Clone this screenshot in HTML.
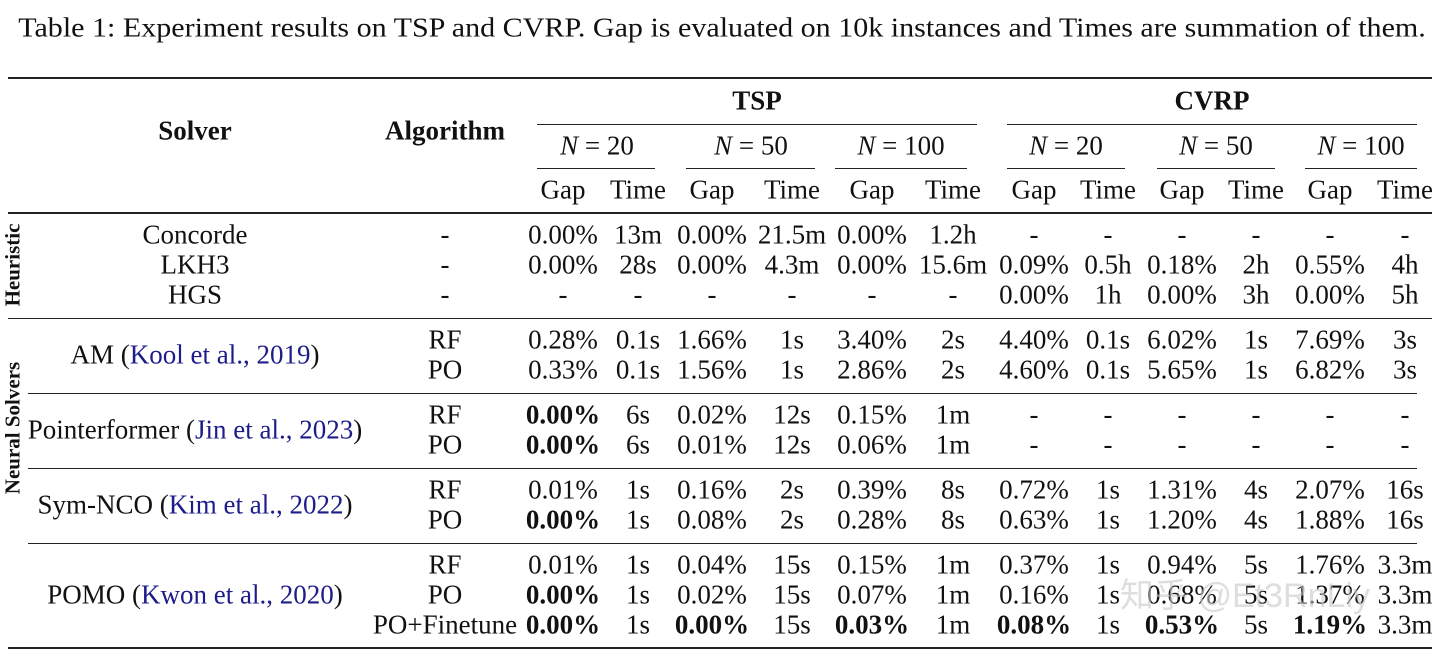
<!DOCTYPE html>
<html><head><meta charset="utf-8"><style>
body{margin:0;width:1440px;height:653px;background:#fff;position:relative;overflow:hidden;font-family:"Liberation Serif",serif;font-size:27px;color:#111}
.c{position:absolute;transform:translate(-50%,-50%);white-space:nowrap;line-height:1}
.l{position:absolute;background:#222}
b{font-weight:bold}
.n{color:#1c1c8a}
.v{position:absolute;transform:translate(-50%,-50%) rotate(-90deg);white-space:nowrap;font-weight:bold;font-size:21px;line-height:1}
i{font-style:italic}
</style></head><body>
<div class="c" style="left:722px;top:28px;transform:translate(-50%,-50%) scaleX(1.113)">Table 1: Experiment results on TSP and CVRP. Gap is evaluated on 10k instances and Times are summation of them.</div>
<div class="l" style="left:8px;top:77px;width:1424px;height:2px"></div>
<div class="l" style="left:537px;top:124px;width:440px;height:1px"></div>
<div class="l" style="left:1007px;top:124px;width:410px;height:1px"></div>
<div class="l" style="left:537px;top:168px;width:118px;height:1px"></div>
<div class="l" style="left:686px;top:168px;width:129px;height:1px"></div>
<div class="l" style="left:835px;top:168px;width:132px;height:1px"></div>
<div class="l" style="left:1007px;top:168px;width:118px;height:1px"></div>
<div class="l" style="left:1157px;top:168px;width:118px;height:1px"></div>
<div class="l" style="left:1305px;top:168px;width:112px;height:1px"></div>
<div class="l" style="left:8px;top:212px;width:1424px;height:2px"></div>
<div class="l" style="left:8px;top:318px;width:1424px;height:1px"></div>
<div class="l" style="left:28px;top:393px;width:1389px;height:1px"></div>
<div class="l" style="left:28px;top:468px;width:1389px;height:1px"></div>
<div class="l" style="left:28px;top:543px;width:1389px;height:1px"></div>
<div class="l" style="left:8px;top:647px;width:1424px;height:2px"></div>

<div class="c" style="left:195px;top:131px"><b>Solver</b></div>
<div class="c" style="left:445px;top:131px"><b>Algorithm</b></div>
<div class="c" style="left:757px;top:101px"><b>TSP</b></div>
<div class="c" style="left:1212px;top:101px"><b>CVRP</b></div>
<div class="c" style="left:597px;top:146px"><i>N</i> = 20</div>
<div class="c" style="left:751px;top:146px"><i>N</i> = 50</div>
<div class="c" style="left:901px;top:146px"><i>N</i> = 100</div>
<div class="c" style="left:1066px;top:146px"><i>N</i> = 20</div>
<div class="c" style="left:1216px;top:146px"><i>N</i> = 50</div>
<div class="c" style="left:1361px;top:146px"><i>N</i> = 100</div>
<div class="c" style="left:563px;top:190px">Gap</div><div class="c" style="left:638px;top:190px">Time</div>
<div class="c" style="left:712px;top:190px">Gap</div><div class="c" style="left:792px;top:190px">Time</div>
<div class="c" style="left:872px;top:190px">Gap</div><div class="c" style="left:953px;top:190px">Time</div>
<div class="c" style="left:1034px;top:190px">Gap</div><div class="c" style="left:1108px;top:190px">Time</div>
<div class="c" style="left:1182px;top:190px">Gap</div><div class="c" style="left:1256px;top:190px">Time</div>
<div class="c" style="left:1330px;top:190px">Gap</div><div class="c" style="left:1405px;top:190px">Time</div>

<div class="v" style="left:13px;top:265px">Heuristic</div>
<div class="v" style="left:13px;top:428px">Neural Solvers</div>

<div class="c" style="left:195px;top:235px">Concorde</div>
<div class="c" style="left:195px;top:265px">LKH3</div>
<div class="c" style="left:195px;top:295px">HGS</div>
<div class="c" style="left:195px;top:355px">AM (<span class="n">Kool et al., 2019</span>)</div>
<div class="c" style="left:195px;top:430px">Pointerformer (<span class="n">Jin et al., 2023</span>)</div>
<div class="c" style="left:195px;top:505px">Sym-NCO (<span class="n">Kim et al., 2022</span>)</div>
<div class="c" style="left:195px;top:595px">POMO (<span class="n">Kwon et al., 2020</span>)</div>

<div class="c" style="left:445px;top:235px">-</div>
<div class="c" style="left:445px;top:265px">-</div>
<div class="c" style="left:445px;top:295px">-</div>
<div class="c" style="left:445px;top:340px">RF</div><div class="c" style="left:445px;top:370px">PO</div>
<div class="c" style="left:445px;top:415px">RF</div><div class="c" style="left:445px;top:445px">PO</div>
<div class="c" style="left:445px;top:490px">RF</div><div class="c" style="left:445px;top:520px">PO</div>
<div class="c" style="left:445px;top:565px">RF</div><div class="c" style="left:445px;top:595px">PO</div>
<div class="c" style="left:445px;top:625px">PO+Finetune</div>

<div style="position:absolute;left:0;top:0">
<div class="c" style="left:563px;top:235px">0.00%</div><div class="c" style="left:638px;top:235px">13m</div><div class="c" style="left:712px;top:235px">0.00%</div><div class="c" style="left:792px;top:235px">21.5m</div><div class="c" style="left:872px;top:235px">0.00%</div><div class="c" style="left:953px;top:235px">1.2h</div><div class="c" style="left:1034px;top:235px">-</div><div class="c" style="left:1108px;top:235px">-</div><div class="c" style="left:1182px;top:235px">-</div><div class="c" style="left:1256px;top:235px">-</div><div class="c" style="left:1330px;top:235px">-</div><div class="c" style="left:1405px;top:235px">-</div>
<div class="c" style="left:563px;top:265px">0.00%</div><div class="c" style="left:638px;top:265px">28s</div><div class="c" style="left:712px;top:265px">0.00%</div><div class="c" style="left:792px;top:265px">4.3m</div><div class="c" style="left:872px;top:265px">0.00%</div><div class="c" style="left:953px;top:265px">15.6m</div><div class="c" style="left:1034px;top:265px">0.09%</div><div class="c" style="left:1108px;top:265px">0.5h</div><div class="c" style="left:1182px;top:265px">0.18%</div><div class="c" style="left:1256px;top:265px">2h</div><div class="c" style="left:1330px;top:265px">0.55%</div><div class="c" style="left:1405px;top:265px">4h</div>
<div class="c" style="left:563px;top:295px">-</div><div class="c" style="left:638px;top:295px">-</div><div class="c" style="left:712px;top:295px">-</div><div class="c" style="left:792px;top:295px">-</div><div class="c" style="left:872px;top:295px">-</div><div class="c" style="left:953px;top:295px">-</div><div class="c" style="left:1034px;top:295px">0.00%</div><div class="c" style="left:1108px;top:295px">1h</div><div class="c" style="left:1182px;top:295px">0.00%</div><div class="c" style="left:1256px;top:295px">3h</div><div class="c" style="left:1330px;top:295px">0.00%</div><div class="c" style="left:1405px;top:295px">5h</div>
<div class="c" style="left:563px;top:340px">0.28%</div><div class="c" style="left:638px;top:340px">0.1s</div><div class="c" style="left:712px;top:340px">1.66%</div><div class="c" style="left:792px;top:340px">1s</div><div class="c" style="left:872px;top:340px">3.40%</div><div class="c" style="left:953px;top:340px">2s</div><div class="c" style="left:1034px;top:340px">4.40%</div><div class="c" style="left:1108px;top:340px">0.1s</div><div class="c" style="left:1182px;top:340px">6.02%</div><div class="c" style="left:1256px;top:340px">1s</div><div class="c" style="left:1330px;top:340px">7.69%</div><div class="c" style="left:1405px;top:340px">3s</div>
<div class="c" style="left:563px;top:370px">0.33%</div><div class="c" style="left:638px;top:370px">0.1s</div><div class="c" style="left:712px;top:370px">1.56%</div><div class="c" style="left:792px;top:370px">1s</div><div class="c" style="left:872px;top:370px">2.86%</div><div class="c" style="left:953px;top:370px">2s</div><div class="c" style="left:1034px;top:370px">4.60%</div><div class="c" style="left:1108px;top:370px">0.1s</div><div class="c" style="left:1182px;top:370px">5.65%</div><div class="c" style="left:1256px;top:370px">1s</div><div class="c" style="left:1330px;top:370px">6.82%</div><div class="c" style="left:1405px;top:370px">3s</div>
<div class="c" style="left:563px;top:415px"><b>0.00%</b></div><div class="c" style="left:638px;top:415px">6s</div><div class="c" style="left:712px;top:415px">0.02%</div><div class="c" style="left:792px;top:415px">12s</div><div class="c" style="left:872px;top:415px">0.15%</div><div class="c" style="left:953px;top:415px">1m</div><div class="c" style="left:1034px;top:415px">-</div><div class="c" style="left:1108px;top:415px">-</div><div class="c" style="left:1182px;top:415px">-</div><div class="c" style="left:1256px;top:415px">-</div><div class="c" style="left:1330px;top:415px">-</div><div class="c" style="left:1405px;top:415px">-</div>
<div class="c" style="left:563px;top:445px"><b>0.00%</b></div><div class="c" style="left:638px;top:445px">6s</div><div class="c" style="left:712px;top:445px">0.01%</div><div class="c" style="left:792px;top:445px">12s</div><div class="c" style="left:872px;top:445px">0.06%</div><div class="c" style="left:953px;top:445px">1m</div><div class="c" style="left:1034px;top:445px">-</div><div class="c" style="left:1108px;top:445px">-</div><div class="c" style="left:1182px;top:445px">-</div><div class="c" style="left:1256px;top:445px">-</div><div class="c" style="left:1330px;top:445px">-</div><div class="c" style="left:1405px;top:445px">-</div>
<div class="c" style="left:563px;top:490px">0.01%</div><div class="c" style="left:638px;top:490px">1s</div><div class="c" style="left:712px;top:490px">0.16%</div><div class="c" style="left:792px;top:490px">2s</div><div class="c" style="left:872px;top:490px">0.39%</div><div class="c" style="left:953px;top:490px">8s</div><div class="c" style="left:1034px;top:490px">0.72%</div><div class="c" style="left:1108px;top:490px">1s</div><div class="c" style="left:1182px;top:490px">1.31%</div><div class="c" style="left:1256px;top:490px">4s</div><div class="c" style="left:1330px;top:490px">2.07%</div><div class="c" style="left:1405px;top:490px">16s</div>
<div class="c" style="left:563px;top:520px"><b>0.00%</b></div><div class="c" style="left:638px;top:520px">1s</div><div class="c" style="left:712px;top:520px">0.08%</div><div class="c" style="left:792px;top:520px">2s</div><div class="c" style="left:872px;top:520px">0.28%</div><div class="c" style="left:953px;top:520px">8s</div><div class="c" style="left:1034px;top:520px">0.63%</div><div class="c" style="left:1108px;top:520px">1s</div><div class="c" style="left:1182px;top:520px">1.20%</div><div class="c" style="left:1256px;top:520px">4s</div><div class="c" style="left:1330px;top:520px">1.88%</div><div class="c" style="left:1405px;top:520px">16s</div>
<div class="c" style="left:563px;top:565px">0.01%</div><div class="c" style="left:638px;top:565px">1s</div><div class="c" style="left:712px;top:565px">0.04%</div><div class="c" style="left:792px;top:565px">15s</div><div class="c" style="left:872px;top:565px">0.15%</div><div class="c" style="left:953px;top:565px">1m</div><div class="c" style="left:1034px;top:565px">0.37%</div><div class="c" style="left:1108px;top:565px">1s</div><div class="c" style="left:1182px;top:565px">0.94%</div><div class="c" style="left:1256px;top:565px">5s</div><div class="c" style="left:1330px;top:565px">1.76%</div><div class="c" style="left:1405px;top:565px">3.3m</div>
<div class="c" style="left:563px;top:595px"><b>0.00%</b></div><div class="c" style="left:638px;top:595px">1s</div><div class="c" style="left:712px;top:595px">0.02%</div><div class="c" style="left:792px;top:595px">15s</div><div class="c" style="left:872px;top:595px">0.07%</div><div class="c" style="left:953px;top:595px">1m</div><div class="c" style="left:1034px;top:595px">0.16%</div><div class="c" style="left:1108px;top:595px">1s</div><div class="c" style="left:1182px;top:595px">0.68%</div><div class="c" style="left:1256px;top:595px">5s</div><div class="c" style="left:1330px;top:595px">1.37%</div><div class="c" style="left:1405px;top:595px">3.3m</div>
<div class="c" style="left:563px;top:625px"><b>0.00%</b></div><div class="c" style="left:638px;top:625px">1s</div><div class="c" style="left:712px;top:625px"><b>0.00%</b></div><div class="c" style="left:792px;top:625px">15s</div><div class="c" style="left:872px;top:625px"><b>0.03%</b></div><div class="c" style="left:953px;top:625px">1m</div><div class="c" style="left:1034px;top:625px"><b>0.08%</b></div><div class="c" style="left:1108px;top:625px">1s</div><div class="c" style="left:1182px;top:625px"><b>0.53%</b></div><div class="c" style="left:1256px;top:625px">5s</div><div class="c" style="left:1330px;top:625px"><b>1.19%</b></div><div class="c" style="left:1405px;top:625px">3.3m</div>
</div>
<div class="c" style="left:1245px;top:596px;font-family:'Liberation Sans','Noto Sans CJK SC',sans-serif;font-size:34px;color:rgba(200,200,200,0.6)">知乎 @Et3RnLiy</div>
</body></html>
